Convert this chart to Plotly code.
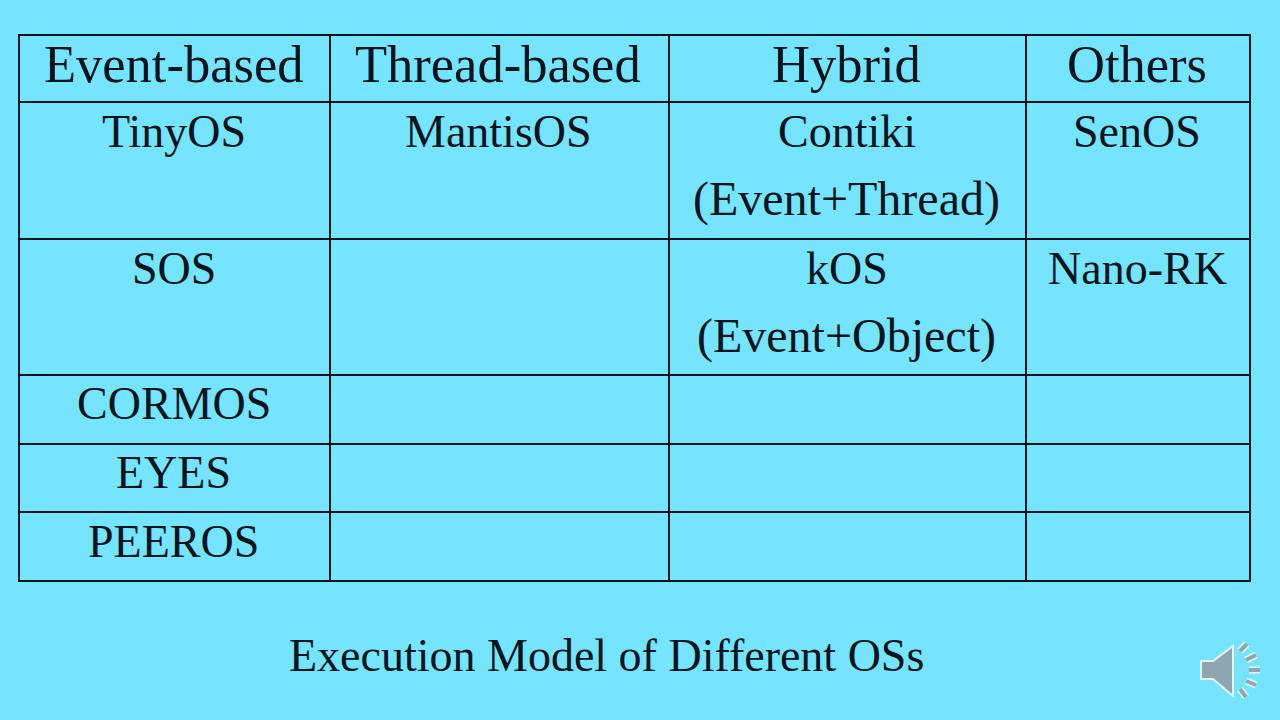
"""
Execution model table drawn with plotly shapes and annotations
"""
import plotly.graph_objects as go

# table content
headers = ['Event-based', 'Thread-based', 'Hybrid', 'Others']
event_based = ['TinyOS', 'SOS', 'CORMOS', 'EYES', 'PEEROS']
thread_based = ['MantisOS', '', '', '', '']
hybrid = ['Contiki<br>(Event+Thread)', 'kOS<br>(Event+Object)', '', '', '']
others = ['SenOS', 'Nano-RK', '', '', '']
caption = 'Execution Model of Different OSs'

# grid lines in picture pixels
col_edges = [19, 330, 669, 1026, 1250]
row_edges = [35, 102, 239, 375, 444, 512, 581]

BG = '#75E5FF'
INK = '#04141c'
FONT = 'Liberation Serif'
W, H = 1280, 720

fig = go.Figure()

# invisible trace so the axes stay alive
fig.add_trace(go.Scatter(x=[0, W], y=[0, H], mode='markers', marker=dict(opacity=0), hoverinfo='skip', showlegend=False))

for x in col_edges:
    fig.add_shape(type='line', x0=x, x1=x, y0=row_edges[0] - 1, y1=row_edges[-1] + 1, line=dict(color=INK, width=2))
for y in row_edges:
    fig.add_shape(type='line', x0=col_edges[0] - 1, x1=col_edges[-1] + 1, y0=y, y1=y, line=dict(color=INK, width=2))

# header row
for i, h in enumerate(headers):
    cx = (col_edges[i] + col_edges[i + 1]) / 2
    fig.add_annotation(x=cx - 1.5, y=64, text=h, showarrow=False, font=dict(family=FONT, size=52.5, color=INK))

# body, top aligned in each row
row_text_y = [131, 268, 403, 472, 541]
for col, values in enumerate([event_based, thread_based, hybrid, others]):
    cx = (col_edges[col] + col_edges[col + 1]) / 2
    for r, val in enumerate(values):
        if not val:
            continue
        lines = val.split('<br>')
        for k, line in enumerate(lines):
            # the bracketed lines run a bit wider in the reference
            size = 48 if k else 46
            fig.add_annotation(x=cx - 1, y=row_text_y[r] + k * 68, text=line, showarrow=False,
                               font=dict(family=FONT, size=size, color=INK))

fig.add_annotation(x=606, y=655, text=caption, showarrow=False, font=dict(family=FONT, size=46, color=INK))

# speaker icon, white halo first and grey on top
fig.add_shape(type='path', path='M 1201 661 L 1213 661 L 1233 646 L 1233 696 L 1213 679 L 1201 679 Z',
              fillcolor='#8fa6b0', line=dict(color='#e4f8ff', width=2))
rays = [(1240, 651, 1247, 644), (1246, 660, 1256, 655), (1249, 670, 1260, 670),
        (1246, 681, 1256, 685), (1240, 689, 1246, 697)]
for x0, y0, x1, y1 in rays:
    fig.add_shape(type='line', x0=x0, y0=y0, x1=x1, y1=y1, line=dict(color='#e4f8ff', width=7))
for x0, y0, x1, y1 in rays:
    fig.add_shape(type='line', x0=x0, y0=y0, x1=x1, y1=y1, line=dict(color='#8fa6b0', width=4))

fig.update_xaxes(range=[0, W], visible=False, fixedrange=True)
fig.update_yaxes(range=[H, 0], visible=False, fixedrange=True)
fig.update_layout(width=W, height=H, margin=dict(l=0, r=0, t=0, b=0),
                  paper_bgcolor=BG, plot_bgcolor=BG)

# page margin off so the figure fills the window
fig.write_html("out.html", config={'displayModeBar': False},
               post_script="document.body.style.margin='0';document.body.style.overflow='hidden';document.body.style.background='#75E5FF';")
